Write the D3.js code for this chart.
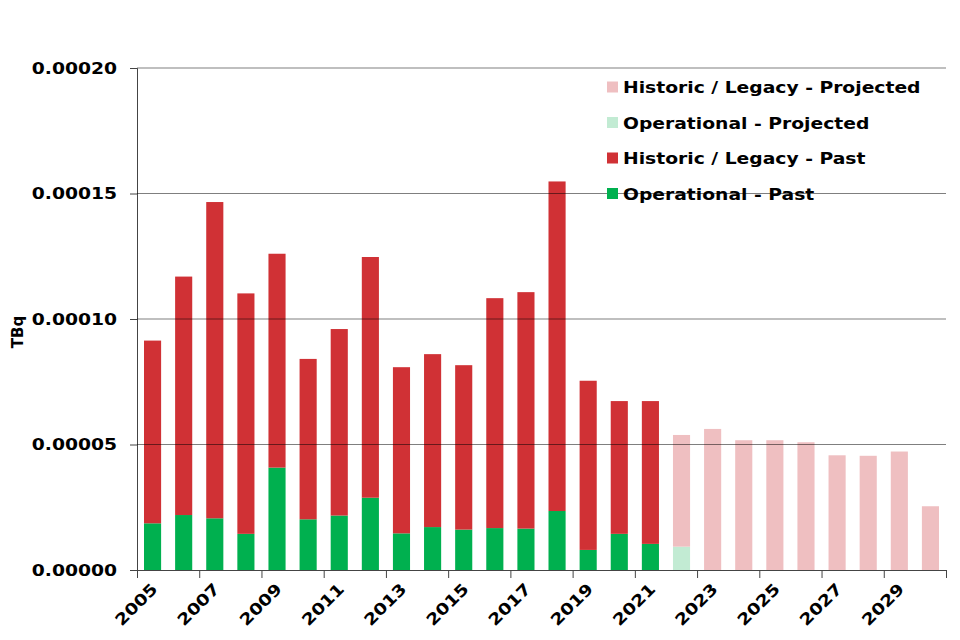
<!DOCTYPE html>
<html>
<head>
<meta charset="utf-8">
<script src="https://cdn.jsdelivr.net/npm/d3@7"></script>
<style>
  body { margin: 0; background: #fff; }
  text { font-family: "DejaVu Sans", Verdana, sans-serif; font-weight: bold; }
</style>
</head>
<body>
<div id="chart"></div>
<script>
// Data (TBq)
const years = d3.range(2005, 2031);
const opPast = [1.86e-5, 2.19e-5, 2.06e-5, 1.44e-5, 4.08e-5, 2.02e-5, 2.17e-5, 2.88e-5, 1.46e-5, 1.71e-5,
  1.61e-5, 1.67e-5, 1.65e-5, 2.35e-5, 0.80e-5, 1.44e-5, 1.04e-5, 0, 0, 0, 0, 0, 0, 0, 0, 0];
const histPast = [7.28e-5, 9.50e-5, 12.60e-5, 9.58e-5, 8.52e-5, 6.39e-5, 7.43e-5, 9.59e-5, 6.62e-5, 6.89e-5,
  6.55e-5, 9.16e-5, 9.42e-5, 13.13e-5, 6.74e-5, 5.29e-5, 5.69e-5, 0, 0, 0, 0, 0, 0, 0, 0, 0];
const opProj = [0, 0, 0, 0, 0, 0, 0, 0, 0, 0, 0, 0, 0, 0, 0, 0, 0, 0.93e-5, 0, 0, 0, 0, 0, 0, 0, 0];
const histProj = [0, 0, 0, 0, 0, 0, 0, 0, 0, 0, 0, 0, 0, 0, 0, 0, 0,
  4.45e-5, 5.62e-5, 5.17e-5, 5.17e-5, 5.09e-5, 4.57e-5, 4.55e-5, 4.72e-5, 2.54e-5];
const yTicks = [0, 0.00005, 0.0001, 0.00015, 0.0002];
const labelYears = years.filter((d, i) => i % 2 === 0);

const keys = ["opPast", "histPast", "opProj", "histProj"];
const names = {
  opPast: "Operational - Past",
  histPast: "Historic / Legacy - Past",
  opProj: "Operational - Projected",
  histProj: "Historic / Legacy - Projected"
};
const colors = { opPast: "#00b04f", histPast: "#d03135", opProj: "#c2ebd3", histProj: "#efbfc1" };

const rows = years.map((y, i) => ({ year: y, opPast: opPast[i], histPast: histPast[i], opProj: opProj[i], histProj: histProj[i] }));

let margin = { left: 137, right: 14, top: 68, bottom: 70 };
let width = 960 - margin.left - margin.right;
let height = 640 - margin.top - margin.bottom;

// the source image text is a bit wider than DejaVu, stretch it horizontally
function stretch(sel, k) {
    sel.each(function () {
        let w = this.getComputedTextLength();
        d3.select(this).attr("textLength", w * k).attr("lengthAdjust", "spacingAndGlyphs");
    });
}

let svg = d3.select("#chart").append("svg")
    .attr("width", 960)
    .attr("height", 640);

let g = svg.append("g").attr("transform", `translate(${margin.left},${margin.top})`);

let x = d3.scaleBand().domain(years).range([0, width]).paddingInner(0.45).paddingOuter(0.225);
let xEdge = d3.scaleLinear().domain([0, years.length]).range([0, width]);
let y = d3.scaleLinear().domain([0, 0.0002]).range([height, 0]);

// stacked bars
let series = d3.stack().keys(keys)(rows);
g.append("g").selectAll("g")
    .data(series)
    .join("g")
    .attr("fill", d => colors[d.key])
    .selectAll("rect")
    .data(d => d)
    .join("rect")
    .attr("x", d => x(d.data.year))
    .attr("width", x.bandwidth())
    .attr("y", d => y(d[1]))
    .attr("height", d => y(d[0]) - y(d[1]));

// y axis + gridlines (gridlines show through the bars)
let yAxis = g.append("g")
    .call(d3.axisLeft(y).tickValues(yTicks).tickFormat(d3.format(".5f")).tickSize(7).tickPadding(13));
yAxis.select(".domain").attr("stroke", "#444");
yAxis.selectAll(".tick line").attr("stroke", "#444");
yAxis.selectAll("text").attr("font-size", 16).attr("fill", "#000").call(stretch, 1.17);

g.append("g").selectAll("line")
    .data(yTicks.filter(d => d > 0))
    .join("line")
    .attr("x1", 0).attr("x2", width)
    .attr("y1", d => y(d)).attr("y2", d => y(d))
    .attr("stroke", "#000").attr("stroke-opacity", 0.5);

// x axis: ticks on category edges every 2 years
let xAxis = g.append("g")
    .attr("transform", `translate(0,${height})`)
    .call(d3.axisBottom(xEdge).tickValues(d3.range(0, years.length + 1, 2)).tickFormat("").tickSize(8).tickSizeOuter(0));
xAxis.select(".domain").attr("stroke", "#444");
xAxis.selectAll(".tick line").attr("stroke", "#444");

g.append("g").selectAll("text")
    .data(labelYears)
    .join("text")
    .attr("transform", d => `translate(${x(d) + x.bandwidth() / 2 + 6},${height + 20}) rotate(-45)`)
    .attr("text-anchor", "end")
    .attr("font-size", 16)
    .text(d => d)
    .call(stretch, 1.17);

// y label
svg.append("text")
    .attr("transform", "translate(23,332) rotate(-90)")
    .attr("text-anchor", "middle")
    .attr("font-size", 15)
    .text("TBq");

// legend
let legendKeys = ["histProj", "opProj", "histPast", "opPast"];
let legend = svg.append("g").attr("transform", "translate(607,87)");
let item = legend.selectAll("g")
    .data(legendKeys)
    .join("g")
    .attr("transform", (d, i) => `translate(0,${i * 35.5})`);
item.append("rect")
    .attr("x", 0).attr("y", -5.5)
    .attr("width", 11).attr("height", 11)
    .attr("fill", d => colors[d]);
item.append("text")
    .attr("x", 16).attr("y", 6)
    .attr("font-size", 16)
    .text(d => names[d])
    .call(stretch, 1.17);
</script>
</body>
</html>
